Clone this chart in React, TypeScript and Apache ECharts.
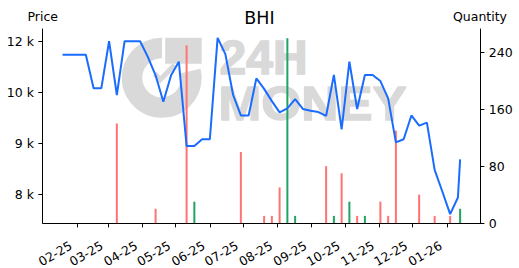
import React, { useEffect, useRef } from "react";
import * as echarts from "echarts";

const weekDates = [
  "2025-01-19", "2025-01-26", "2025-02-02", "2025-02-09", "2025-02-16", "2025-02-23",
  "2025-03-02", "2025-03-09", "2025-03-16", "2025-03-23", "2025-03-30",
  "2025-04-06", "2025-04-13", "2025-04-20", "2025-04-27",
  "2025-05-04", "2025-05-11", "2025-05-18", "2025-05-25",
  "2025-06-01", "2025-06-08", "2025-06-15", "2025-06-22", "2025-06-29",
  "2025-07-06", "2025-07-13", "2025-07-20", "2025-07-27",
  "2025-08-03", "2025-08-10", "2025-08-17", "2025-08-24", "2025-08-31",
  "2025-09-07", "2025-09-14", "2025-09-21", "2025-09-28",
  "2025-10-05", "2025-10-12", "2025-10-19", "2025-10-26",
  "2025-11-02", "2025-11-09", "2025-11-16", "2025-11-23", "2025-11-30",
  "2025-12-07", "2025-12-14", "2025-12-21", "2025-12-28",
  "2026-01-04", "2026-01-11", "2026-01-13",
];

const price = [
  11600, 11600, 11600, 11600, 10620, 10620,
  12000, 10420, 12000, 12000, 12000,
  11540, 11000, 10220, 11000,
  11400, 8920, 8920, 9120,
  9120, 12100, 11620, 10420, 9820,
  9820, 10910, 10600, 10240,
  9910, 10030, 10300, 10010, 9960,
  9920, 9810, 11010, 9410,
  11400, 10010, 11010, 11010,
  10830, 10320, 9030, 9120, 9820,
  9520, 9610, 8220, 7580,
  6920, 7410, 8530,
];

const sellQty = [
  0, 0, 0, 0, 0, 0,
  0, 140, 0, 0, 0,
  0, 20, 0, 0,
  0, 250, 0, 0,
  0, 0, 0, 0, 100,
  0, 0, 10, 10,
  50, 0, 0, 0, 0,
  0, 80, 0, 70,
  0, 10, 0, 0,
  30, 10, 130, 0, 0,
  40, 0, 10, 0,
  10, 0, 0,
];

const buyQty = [
  0, 0, 0, 0, 0, 0,
  0, 0, 0, 0, 0,
  0, 0, 0, 0,
  0, 0, 30, 0,
  0, 0, 0, 0, 0,
  0, 0, 0, 0,
  0, 260, 10, 0, 0,
  0, 0, 10, 0,
  30, 0, 10, 0,
  0, 0, 0, 0, 0,
  0, 0, 0, 0,
  0, 0, 20,
];

const monthTicks = [
  "2025-02-01", "2025-03-01", "2025-04-01", "2025-05-01", "2025-06-01", "2025-07-01",
  "2025-08-01", "2025-09-01", "2025-10-01", "2025-11-01", "2025-12-01", "2026-01-01",
];
const monthLabels = [
  "02-25", "03-25", "04-25", "05-25", "06-25", "07-25",
  "08-25", "09-25", "10-25", "11-25", "12-25", "01-26",
];

const priceTicks = [7500, 9000, 10500, 12000];
const priceTickLabels = ["8 k", "9 k", "10 k", "12 k"];
const qtyTicks = [0, 80, 160, 240];
const qtyTickLabels = ["0", "80", "160", "240"];

const ts = (s: string) => {
  const [y, m, d] = s.split("-").map(Number);
  return Date.UTC(y, m - 1, d);
};

const FONT = "DejaVu Sans";
const BLUE = "#1a6cff";
const RED = "#ff7373";
const GREEN = "#1fa463";
const WM = "#d9d9d9";

export default function App() {
  const ref = useRef<HTMLDivElement>(null);

  useEffect(() => {
    if (!ref.current) return;
    const chart = echarts.init(ref.current, undefined, { renderer: "svg" });

    const xs = weekDates.map(ts);
    const x0 = xs[0];
    const x1 = xs[xs.length - 1];
    const xSpan = x1 - x0;
    const pMin = Math.min(...price);
    const pMax = Math.max(...price);
    const pSpan = pMax - pMin;
    const qMax = Math.max(...sellQty, ...buyQty);
    const monthTs = monthTicks.map(ts);
    const findLabel = (v: number, keys: number[], labels: string[]) => {
      for (let i = 0; i < keys.length; i++) {
        if (Math.abs(keys[i] - v) < 1e-6 * Math.max(1, Math.abs(v))) return labels[i];
      }
      return "";
    };

    const sellData = xs
      .map((t, i) => [t, sellQty[i]])
      .filter((d) => d[1] > 0);
    const buyData = xs
      .map((t, i) => [t, buyQty[i]])
      .filter((d) => d[1] > 0);
    const lineData = xs.map((t, i) => [t, price[i]]);

    const axisLineStyle = { color: "#000", width: 1 };
    const labelStyle = { color: "#000", fontSize: 12.5, fontFamily: FONT };

    const cx = 161.7;
    const cy = 77.8;

    chart.setOption({
      animation: false,
      textStyle: { fontFamily: FONT },
      title: {
        text: "BHI",
        left: "center",
        top: 9,
        padding: [0, 0, 0, 4],
        textStyle: { fontSize: 17.5, fontWeight: "normal", color: "#000", fontFamily: FONT },
      },
      grid: {
        left: 42.7,
        right: 39,
        top: 29,
        bottom: 45,
        containLabel: false,
        outerBoundsMode: "none",
      },
      xAxis: {
        type: "value",
        min: x0 - 0.05 * xSpan,
        max: x1 + 0.05 * xSpan,
        axisLine: { show: true, onZero: false, lineStyle: axisLineStyle },
        axisTick: { show: true, customValues: monthTs, length: 4.4, lineStyle: axisLineStyle },
        axisLabel: {
          customValues: monthTs,
          rotate: 30,
          margin: 18,
          padding: [0, 7, 0, 0],
          formatter: (v: number) => findLabel(v, monthTs, monthLabels),
          ...labelStyle,
        },
        splitLine: { show: false },
      },
      yAxis: [
        {
          type: "value",
          position: "left",
          min: pMin - 0.05 * pSpan,
          max: pMax + 0.05 * pSpan,
          name: "Price",
          nameLocation: "end",
          nameGap: 6,
          nameTextStyle: { ...labelStyle },
          axisLine: { show: true, onZero: false, lineStyle: axisLineStyle },
          axisTick: { show: true, customValues: priceTicks, length: 4.4, lineStyle: axisLineStyle },
          axisLabel: {
            customValues: priceTicks,
            margin: 8.8,
            formatter: (v: number) => findLabel(v, priceTicks, priceTickLabels),
            ...labelStyle,
          },
          splitLine: { show: false },
        },
        {
          type: "value",
          position: "right",
          min: 0,
          max: qMax * 1.05,
          name: "Quantity",
          nameLocation: "end",
          nameGap: 6,
          nameTextStyle: { ...labelStyle },
          axisLine: { show: true, onZero: false, lineStyle: axisLineStyle },
          axisTick: { show: true, customValues: qtyTicks, length: 4.4, lineStyle: axisLineStyle },
          axisLabel: {
            customValues: qtyTicks,
            margin: 8.8,
            formatter: (v: number) => findLabel(v, qtyTicks, qtyTickLabels),
            ...labelStyle,
          },
          splitLine: { show: false },
        },
      ],
      graphic: [
        {
          type: "sector",
          silent: true,
          z: -10,
          shape: { cx, cy, r0: 19.5, r: 40, startAngle: -0.23, endAngle: Math.PI * 1.5 + 0.01, clockwise: true },
          style: { fill: WM },
        },
        {
          type: "rect",
          silent: true,
          z: -10,
          shape: { x: cx + 3.5, y: cy - 40, width: 36.5, height: 26 },
          style: { fill: WM },
        },
        {
          type: "polyline",
          silent: true,
          z: -10,
          shape: { points: [[cx - 7, cy - 4], [cx - 1.5, cy + 2], [cx + 13, cy - 13]] },
          style: { stroke: WM, lineWidth: 5, fill: null },
        },
        {
          type: "text",
          silent: true,
          z: -10,
          x: 219.5,
          y: 57,
          style: {
            text: "24H",
            fontSize: 48,
            fontWeight: "bold",
            fontFamily: "Liberation Sans",
            fill: WM,
            stroke: WM,
            lineWidth: 1.5,
            verticalAlign: "middle",
          },
        },
        {
          type: "text",
          silent: true,
          z: -10,
          x: 218.5,
          y: 104,
          scaleX: 1.07,
          style: {
            text: "MONEY",
            fontSize: 48,
            fontWeight: "bold",
            fontFamily: "Liberation Sans",
            fill: WM,
            stroke: WM,
            lineWidth: 1.5,
            verticalAlign: "middle",
          },
        },
      ],
      series: [
        {
          type: "bar",
          yAxisIndex: 1,
          data: sellData,
          barWidth: 2,
          barGap: "-100%",
          itemStyle: { color: RED },
          z: 2,
        },
        {
          type: "bar",
          yAxisIndex: 1,
          data: buyData,
          barWidth: 2,
          barGap: "-100%",
          itemStyle: { color: GREEN },
          z: 2,
        },
        {
          type: "line",
          yAxisIndex: 0,
          data: lineData,
          showSymbol: false,
          symbol: "none",
          lineStyle: { width: 2, color: BLUE },
          itemStyle: { color: BLUE },
          z: 3,
        },
      ],
    });

    return () => chart.dispose();
  }, []);

  return (
    <div
      ref={ref}
      style={{ position: "absolute", left: 0, top: 0, width: 519, height: 268 }}
    />
  );
}
